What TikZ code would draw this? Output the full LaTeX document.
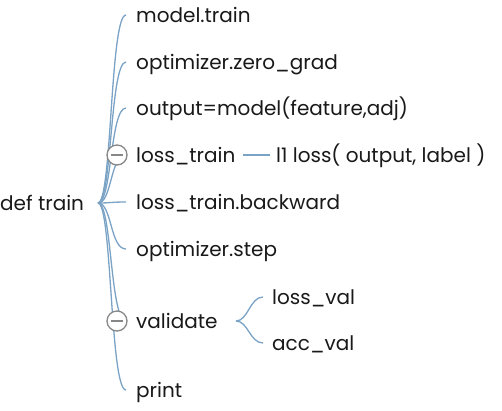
\documentclass[tikz,border=0pt]{standalone}
\usepackage{fontspec}
\setmainfont{Poppins}
\definecolor{edge}{RGB}{122,163,198}
\definecolor{ink}{RGB}{25,25,25}
\definecolor{knob}{RGB}{135,135,135}
\begin{document}
\begin{tikzpicture}[x=1pt,y=-1pt,
  lbl/.style={anchor=base west,inner sep=0pt,font=\fontsize{20}{24}\selectfont,text=ink},
  conn/.style={draw=edge,line width=1.3pt},
  knobst/.style={circle,draw=knob,fill=white,line width=1.3pt,minimum size=20pt,inner sep=0pt}]
\useasboundingbox (0,0) rectangle (502,410);
\fill[white] (0,0) rectangle (502,410);
\node[lbl] (root) at (0,210) {def train};
\coordinate (r) at (98,203);
\foreach \n/\y/\t in {a/15/model.train, b/62/optimizer.zero\_grad, c/108/output=model(feature{,}adj), d/155/loss\_train, e/202/loss\_train.backward, f/249/optimizer.step, g/321/validate, h/390/print}{
  \node[lbl] (\n) at (136,\y+7) {\t};
  \coordinate (\n e) at (126,\y);
  \draw[conn] (r) .. controls (112,203) and (110,\y) .. (\n e);
}
\node[knobst] (kd) at (117,155) {};
\draw[knob,line width=1.3pt] (kd.center)+(-6,0) -- +(6,0);
\node[knobst] (kg) at (117,321) {};
\draw[knob,line width=1.3pt] (kg.center)+(-6,0) -- +(6,0);
\node[lbl] (l1) at (276,162) {l1 loss( output, label )};
\coordinate (d1) at (243,155);
\coordinate (d2) at (270,155);
\draw[conn] (d1) -- (d2);
\node[lbl] (lv) at (272,304) {loss\_val};
\node[lbl] (av) at (272,350) {acc\_val};
\coordinate (g0) at (236,321);
\coordinate (g1) at (263,297);
\coordinate (g2) at (263,343);
\draw[conn] (g0) .. controls (248,321) and (250,297) .. (g1);
\draw[conn] (g0) .. controls (248,321) and (250,343) .. (g2);
\end{tikzpicture}
\end{document}
